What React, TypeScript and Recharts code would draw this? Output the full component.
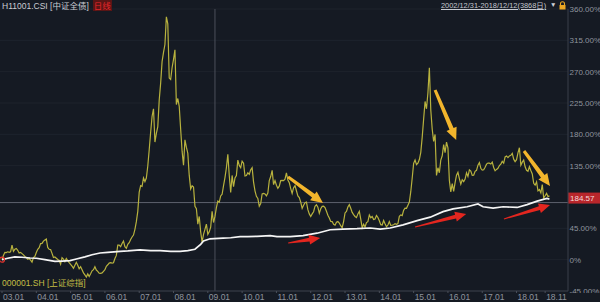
import React from "react"
import {
  LineChart,
  Line,
  XAxis,
  YAxis,
  CartesianGrid,
  ReferenceLine,
  ReferenceDot,
} from "recharts"

// 上证综指 closes, one every half month, first one is 2002/12/31, last one 2018/12/12
const BASE_LEVEL = 1357.65
const shClose = [
  1357.65,
  // 2003
  1440, 1500, 1495, 1511, 1500, 1510, 1640, 1521, 1560, 1576, 1540, 1487,
  1500, 1476, 1450, 1421, 1400, 1367, 1380, 1348, 1310, 1397, 1420, 1497,
  // 2004
  1560, 1590, 1670, 1675, 1720, 1742, 1760, 1595, 1560, 1555, 1480, 1400,
  1410, 1386, 1360, 1342, 1270, 1396, 1370, 1320, 1380, 1340, 1300, 1266,
  // 2005
  1230, 1191, 1250, 1306, 1250, 1181, 1220, 1159, 1100, 1060, 1020, 1080,
  1030, 1083, 1140, 1162, 1220, 1155, 1130, 1092, 1090, 1099, 1130, 1161,
  // 2006
  1230, 1258, 1290, 1299, 1290, 1298, 1380, 1440, 1640, 1641, 1610, 1672,
  1720, 1612, 1580, 1658, 1690, 1752, 1800, 1837, 1950, 2099, 2300, 2675,
  // 2007
  2800, 2786, 2950, 2881, 2950, 3183, 3500, 3841, 4150, 4300, 3650, 3820,
  3950, 4471, 4800, 5218, 5400, 5552, 6092, 5954, 4900, 4871, 5100, 5262,
  // 2008
  5450, 4383, 4500, 4348, 3900, 3473, 3200, 3693, 3550, 3433, 3000, 2736,
  2800, 2775, 2400, 2350, 2050, 2200, 1900, 1700, 1850, 1950, 2050, 1850,
  // 2009
  1900, 1991, 2300, 2082, 2200, 2373, 2500, 2477, 2600, 2633, 2800, 2959,
  3150, 3412, 3000, 2668, 3000, 2779, 2950, 2996, 3300, 3195, 3150, 3277,
  // 2010
  3240, 2989, 3000, 3051, 3020, 3109, 3150, 2870, 2700, 2592, 2550, 2398,
  2450, 2638, 2650, 2639, 2600, 2655, 2900, 2979, 3100, 2820, 2900, 2808,
  // 2011
  2750, 2790, 2900, 2905, 2900, 2928, 3050, 2911, 2860, 2743, 2650, 2762,
  2800, 2701, 2600, 2568, 2480, 2359, 2420, 2468, 2480, 2333, 2250, 2199,
  // 2012
  2250, 2292, 2400, 2428, 2380, 2262, 2350, 2396, 2400, 2373, 2300, 2225,
  2170, 2103, 2100, 2047, 2030, 2086, 2100, 2069, 2020, 1980, 2100, 2269,
  // 2013
  2300, 2385, 2430, 2359, 2280, 2237, 2200, 2178, 2250, 2300, 2150, 1979,
  2050, 1994, 2080, 2098, 2230, 2175, 2200, 2141, 2150, 2220, 2180, 2116,
  // 2014
  2040, 2033, 2120, 2056, 2000, 2033, 2100, 2026, 2030, 2039, 2060, 2048,
  2060, 2202, 2230, 2217, 2320, 2364, 2360, 2420, 2480, 2683, 2950, 3235,
  // 2015
  3300, 3210, 3240, 3310, 3450, 3748, 4100, 4442, 4300, 4612, 5100, 4277,
  3900, 3664, 3800, 3000, 3150, 3053, 3300, 3383, 3600, 3445, 3650, 3539,
  // 2016
  2900, 2680, 2840, 2688, 2860, 3004, 3060, 2938, 2830, 2917, 2880, 2930,
  3050, 2979, 3110, 3085, 3000, 3005, 3080, 3100, 3200, 3250, 3140, 3104,
  // 2017
  3110, 3159, 3220, 3242, 3240, 3223, 3260, 3155, 3090, 3117, 3140, 3192,
  3220, 3273, 3240, 3361, 3380, 3349, 3380, 3393, 3430, 3317, 3270, 3307,
  // 2018
  3440, 3540, 3200, 3259, 3300, 3169, 3100, 3082, 3170, 3095, 3030, 2847,
  2810, 2876, 2700, 2725, 2660, 2821, 2560, 2603, 2650, 2588, 2602,
]

// 中证全债, % change since 2002/12/31, at month offsets
const bondMonth = [
  0, 2, 4.5, 7, 9.8, 12, 15, 18.5, 21, 23.8, 26, 29, 31.5, 34.3, 37, 41.3, 44,
  48.3, 52, 55.3, 59, 62.3, 65, 67.5, 69.5, 70.5, 72.8, 77.3, 80, 83.3, 86,
  89.2, 93.8, 96.2, 100.8, 105.3, 110.2, 114.8, 119.3, 124.2, 128.8, 132.3,
  135.8, 140.3, 145.2, 149.8, 154.3, 157.8, 162.7, 166.5, 168.3, 171.8, 175.3,
  180.2, 183.7, 187.2, 190.6, 191.5,
]
const bondPct = [
  0, 2, 4, 3.5, 2.4, 2, 0, -2.4, -2, -1.4, 1, 4, 7, 9.6, 10.5, 12, 12.5, 14,
  13, 13, 12, 12, 13, 15, 22, 27, 30, 31, 31.5, 33, 33, 33.5, 34.5, 33, 33,
  34.5, 38, 43, 44, 44.5, 45.5, 44, 45.5, 50, 56, 61, 69, 73, 76, 80, 76, 74,
  76, 75, 79, 84, 88, 87,
]

const xTickMonths = [0, 12, 24, 36, 48, 60, 72, 84, 96, 108, 120, 132, 144, 156, 168, 180, 190]
const xTickLabels = [
  "03.01", "04.01", "05.01", "06.01", "07.01", "08.01", "09.01", "10.01", "11.01",
  "12.01", "13.01", "14.01", "15.01", "16.01", "17.01", "18.01", "18.11",
]
const yTicks = [-45, 0, 45, 135, 180, 225, 270, 315, 360]

const shData = shClose.map((v, i) => ({ t: i / 2, pct: (v / BASE_LEVEL - 1) * 100 }))
const bondData = bondMonth.map((t, i) => ({ t, pct: bondPct[i] }))

// annotation arrows, in chart coordinates (month, %)
const arrows = [
  { from: [100.1, 118.8], to: [112.3, 81.4], kind: "y" },
  { from: [151.5, 243.7], to: [158.9, 171.9], kind: "y" },
  { from: [182.6, 156.1], to: [191.7, 105.8], kind: "y" },
  { from: [100.1, 24.0], to: [111.3, 31.2], kind: "r" },
  { from: [144.5, 47.0], to: [162.4, 65.6], kind: "r" },
  { from: [175.6, 58.5], to: [191.7, 78.6], kind: "r" },
]

const FONT = '"Liberation Sans", Arial, "Noto Sans CJK SC", sans-serif'
const CJK = '"Noto Sans CJK SC", sans-serif'
const BG = "#151a23"
const AXIS_TEXT = "#8f949e"

function arrowPoints(x1: number, y1: number, x2: number, y2: number, tailW: number, shaftW: number, headL: number, headW: number) {
  const dx = x2 - x1
  const dy = y2 - y1
  const len = Math.hypot(dx, dy) || 1
  const ux = dx / len
  const uy = dy / len
  const nx = -uy
  const ny = ux
  const bx = x2 - ux * headL
  const by = y2 - uy * headL
  const p = [
    [x1 + (nx * tailW) / 2, y1 + (ny * tailW) / 2],
    [bx + (nx * shaftW) / 2, by + (ny * shaftW) / 2],
    [bx + (nx * headW) / 2, by + (ny * headW) / 2],
    [x2, y2],
    [bx - (nx * headW) / 2, by - (ny * headW) / 2],
    [bx - (nx * shaftW) / 2, by - (ny * shaftW) / 2],
    [x1 - (nx * tailW) / 2, y1 - (ny * tailW) / 2],
  ]
  return p.map((q) => `${q[0].toFixed(1)},${q[1].toFixed(1)}`).join(" ")
}

const YellowArrow = (props: any) => (
  <polygon
    points={arrowPoints(props.x1, props.y1, props.x2, props.y2, 3, 4.5, 12, 11)}
    fill="#f2b52c"
  />
)
const RedArrow = (props: any) => (
  <polygon
    points={arrowPoints(props.x1, props.y1, props.x2, props.y2, 1, 4, 11, 10)}
    fill="#e3261f"
  />
)

// crosshair line with the value tag sitting on the right axis
const PriceLine = (props: any) => {
  const left = Math.min(props.x1, props.x2)
  const right = Math.max(props.x1, props.x2)
  const y = props.y1
  return (
    <g>
      <line x1={left} y1={y} x2={right} y2={y} stroke="#5d626d" strokeWidth={1} />
      <rect x={right} y={y - 10} width={32} height={11} fill="#b8262b" />
      <text x={right + 2} y={y - 1.5} fill="#f3dada" fontSize={8} fontFamily={FONT}>
        184.57
      </text>
    </g>
  )
}

const XTick = (props: any) => {
  const { x, y, payload } = props
  const idx = xTickMonths.indexOf(payload.value)
  return (
    <g>
      <line x1={x} x2={x} y1={y} y2={y + 2} stroke="#4a4f5a" />
      <text x={x + 1} y={y + 8.5} fill={AXIS_TEXT} fontSize={8.5} fontFamily={FONT} textAnchor="start">
        {xTickLabels[idx]}
      </text>
    </g>
  )
}

const YTick = (props: any) => {
  const { x, y, payload } = props
  const v = payload.value
  const label = v === 0 ? "0%" : `${v.toFixed(2)}%`
  return (
    <g>
      <defs>
        <clipPath id={`yclip${v}`}>
          <rect x={560} y={0} width={40} height={293} />
        </clipPath>
      </defs>
      <text
        x={x + 1.5}
        y={y + 3}
        fill={AXIS_TEXT}
        fontSize={8}
        fontFamily={FONT}
        textAnchor="start"
        clipPath={`url(#yclip${v})`}
      >
        {label}
      </text>
    </g>
  )
}

export default function App() {
  return (
    <div
      style={{
        position: "absolute",
        left: 0,
        top: 0,
        width: 600,
        height: 302,
        background: BG,
        overflow: "hidden",
        fontFamily: FONT,
      }}
    >
      <LineChart width={600} height={302} margin={{ top: 9, right: 0, bottom: 0, left: 0 }}>
        <CartesianGrid stroke="#1e232d" vertical={false} />
        <XAxis
          type="number"
          dataKey="t"
          domain={[-0.7, 198]}
          allowDataOverflow
          ticks={xTickMonths}
          interval={0}
          height={11}
          tickSize={0}
          tickMargin={0}
          tick={<XTick />}
          axisLine={{ stroke: "#3a3f4a" }}
        />
        <YAxis
          orientation="right"
          type="number"
          dataKey="pct"
          domain={[-45, 360]}
          allowDataOverflow
          ticks={yTicks}
          interval={0}
          width={32}
          tickSize={0}
          tickMargin={0}
          tick={<YTick />}
          axisLine={{ stroke: "#3a3f4a" }}
        />
        <ReferenceLine x={74.5} stroke="#4b505b" strokeWidth={1} />
        <ReferenceLine y={82} shape={PriceLine} ifOverflow="visible" />
        <Line
          data={shData}
          dataKey="pct"
          type="linear"
          stroke="#b8b23e"
          strokeWidth={1.2}
          dot={false}
          isAnimationActive={false}
        />
        <Line
          data={bondData}
          dataKey="pct"
          type="linear"
          stroke="#f5f5f5"
          strokeWidth={1.7}
          dot={false}
          isAnimationActive={false}
        />
        <ReferenceDot x={0} y={0} r={2.5} fill="none" stroke="#e3332c" strokeWidth={1.2} ifOverflow="visible" />
        {arrows.map((a, i) => (
          <ReferenceLine
            key={i}
            segment={[
              { x: a.from[0], y: a.from[1] },
              { x: a.to[0], y: a.to[1] },
            ]}
            ifOverflow="visible"
            shape={a.kind === "y" ? YellowArrow : RedArrow}
          />
        ))}
      </LineChart>

      <div style={{ position: "absolute", left: 2, top: 0, fontSize: 8.5, lineHeight: "10px", color: "#c9ccd3", whiteSpace: "nowrap" }}>
        H11001.CSI [<span style={{ fontFamily: CJK }}>中证全债</span>]
        <span
          style={{
            marginLeft: 4,
            padding: "0 1px",
            background: "#5a1515",
            color: "#e8262a",
            fontFamily: CJK,
          }}
        >
          日线
        </span>
      </div>
      <div
        style={{
          position: "absolute",
          left: 441,
          top: 0,
          fontSize: 7.4,
          lineHeight: "10px",
          color: "#c5c9d0",
          textDecoration: "underline",
          whiteSpace: "nowrap",
        }}
      >
        2002/12/31-2018/12/12(3868<span style={{ fontFamily: CJK }}>日</span>)
      </div>
      <div style={{ position: "absolute", left: 550, top: 0, fontSize: 6.5, lineHeight: "10px", color: "#cfd2d8" }}>▼</div>
      <svg style={{ position: "absolute", left: 558, top: 1 }} width={9} height={9}>
        <path d="M2.5 4 V2.8 a2 2 0 0 1 4 0 V4" fill="none" stroke="#e9a623" strokeWidth={1.1} />
        <rect x={1.5} y={4} width={6} height={4.5} fill="#e9a623" />
      </svg>
      <div
        style={{
          position: "absolute",
          left: 2,
          top: 277,
          fontSize: 8.5,
          lineHeight: "10px",
          color: "#c3bd45",
          whiteSpace: "nowrap",
        }}
      >
        000001.SH [<span style={{ fontFamily: CJK }}>上证综指</span>]
      </div>
    </div>
  )
}
